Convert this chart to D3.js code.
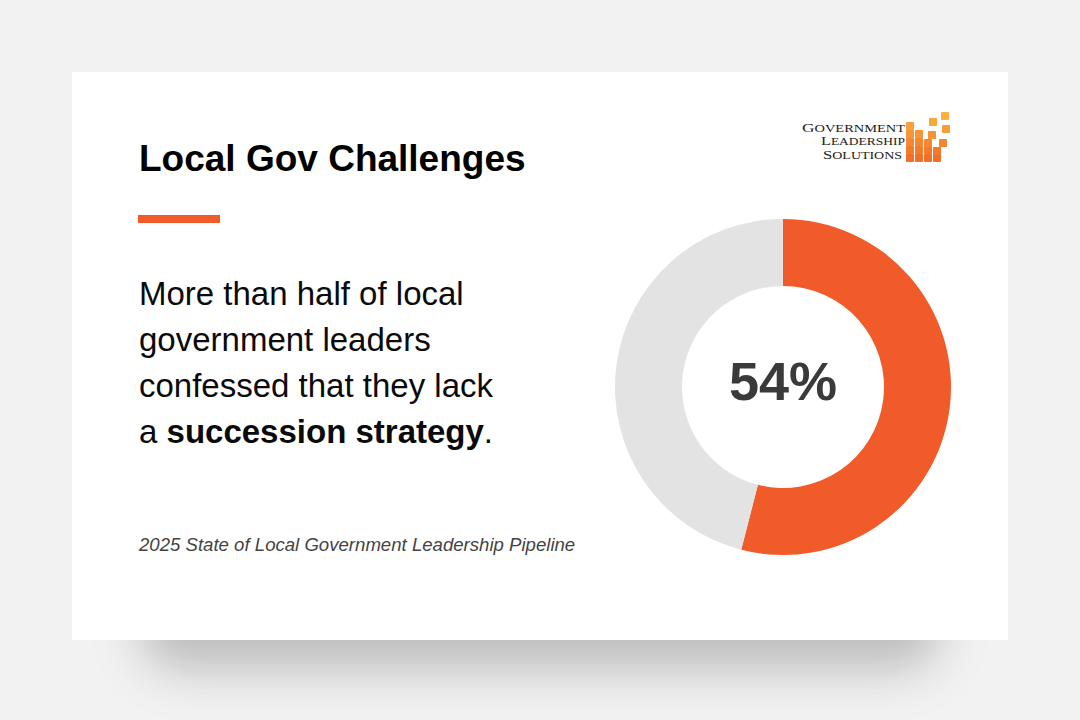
<!DOCTYPE html>
<html>
<head>
<meta charset="utf-8">
<script src="https://cdn.jsdelivr.net/npm/d3@7"></script>
<style>
  html, body { margin: 0; padding: 0; background: #f2f2f2; }
  svg { display: block; }
</style>
</head>
<body>
<div id="chart"></div>
<script>
// data
const categories = ['Lack a succession strategy', 'Have a strategy'];
const values = [54, 46];
const colors = ['#f15a29', '#e3e3e3'];
const headline = 'Local Gov Challenges';
const bodyLines = [
  [{ t: 'More than half of local' }],
  [{ t: 'government leaders' }],
  [{ t: 'confessed that they lack' }],
  [{ t: 'a ' }, { t: 'succession strategy', b: true }, { t: '.' }]
];
const source = '2025 State of Local Government Leadership Pipeline';
const logoLines = ['Government', 'Leadership', 'Solutions'];

const width = 1080;
const height = 720;

const svg = d3.select('#chart')
  .append('svg')
  .attr('width', width)
  .attr('height', height);

const defs = svg.append('defs');
defs.append('filter')
  .attr('id', 'shadow')
  .attr('x', '-20%').attr('y', '-50%')
  .attr('width', '140%').attr('height', '200%')
  .append('feGaussianBlur')
  .attr('stdDeviation', 24);

svg.append('rect')
  .attr('width', width).attr('height', height)
  .attr('fill', '#f2f2f2');

// soft shadow under the card
svg.append('rect')
  .attr('x', 140).attr('y', 560)
  .attr('width', 800).attr('height', 110)
  .attr('rx', 40)
  .attr('fill', '#000')
  .attr('fill-opacity', 0.22)
  .attr('filter', 'url(#shadow)');

// card
svg.append('rect')
  .attr('x', 72).attr('y', 72)
  .attr('width', 936).attr('height', 568)
  .attr('fill', '#fff');

const font = 'Liberation Sans, Arial, Helvetica, sans-serif';

svg.append('text')
  .attr('x', 139).attr('y', 171)
  .attr('font-family', font)
  .attr('font-size', 37)
  .attr('font-weight', 'bold')
  .attr('fill', '#000')
  .text(headline);

svg.append('rect')
  .attr('x', 138).attr('y', 215)
  .attr('width', 82).attr('height', 8)
  .attr('fill', colors[0]);

const body = svg.append('text')
  .attr('font-family', font)
  .attr('font-size', 33)
  .attr('fill', '#0a0a0a');

bodyLines.forEach((line, i) => {
  line.forEach((part, j) => {
    const ts = body.append('tspan')
      .attr('font-weight', part.b ? 'bold' : 'normal')
      .text(part.t);
    if (j === 0) ts.attr('x', 139).attr('y', 305 + i * 46);
  });
});

svg.append('text')
  .attr('x', 139).attr('y', 551)
  .attr('font-family', font)
  .attr('font-size', 18.6)
  .attr('font-style', 'italic')
  .attr('fill', '#444')
  .text(source);

// donut
const cx = 783, cy = 387;
const pie = d3.pie().sort(null).value(d => d)(values);
const arc = d3.arc().innerRadius(101).outerRadius(168);

const donut = svg.append('g')
  .attr('transform', `translate(${cx},${cy})`);

donut.selectAll('path')
  .data(pie)
  .join('path')
  .attr('d', arc)
  .attr('fill', (d, i) => colors[i])
  .append('title')
  .text((d, i) => `${categories[i]}: ${d.data}%`);

donut.append('text')
  .attr('text-anchor', 'middle')
  .attr('y', 13)
  .attr('font-family', font)
  .attr('font-size', 54)
  .attr('font-weight', 'bold')
  .attr('fill', '#3a3a3a')
  .text(`${values[0]}%`);

// logo
const logo = svg.append('g');
const logoY = [131.5, 145, 158.5];
const logoX0 = [802, 821, 823];
const logoX1 = [905, 905, 902];
logoLines.forEach((w, i) => {
  const t = logo.append('text')
    .attr('x', logoX0[i]).attr('y', logoY[i])
    .attr('font-family', 'Liberation Serif, Times New Roman, serif')
    .attr('fill', '#222')
    .attr('textLength', logoX1[i] - logoX0[i])
    .attr('lengthAdjust', 'spacingAndGlyphs');
  t.append('tspan').attr('font-size', 12).text(w[0]);
  t.append('tspan').attr('font-size', 10).text(w.slice(1).toUpperCase());
});

const sq = [
  // staircase block [x, y]
  [906, 154], [906, 146], [906, 138], [906, 130], [906, 122],
  [915, 154], [915, 146], [915, 138], [915, 130],
  [924, 154], [924, 146], [924, 139],
  [933, 154], [933, 147],
  // floating squares
  [929, 118], [941, 112], [942, 125], [928, 131], [939, 139]
];
const sqColor = d3.scaleLinear().domain([112, 160]).range(['#fbb040', '#f26522']);
logo.selectAll('rect.sq')
  .data(sq)
  .join('rect')
  .attr('class', 'sq')
  .attr('x', d => d[0]).attr('y', d => d[1])
  .attr('width', 8).attr('height', 8)
  .attr('rx', 0.8)
  .attr('fill', d => sqColor(d[1]));
</script>
</body>
</html>
